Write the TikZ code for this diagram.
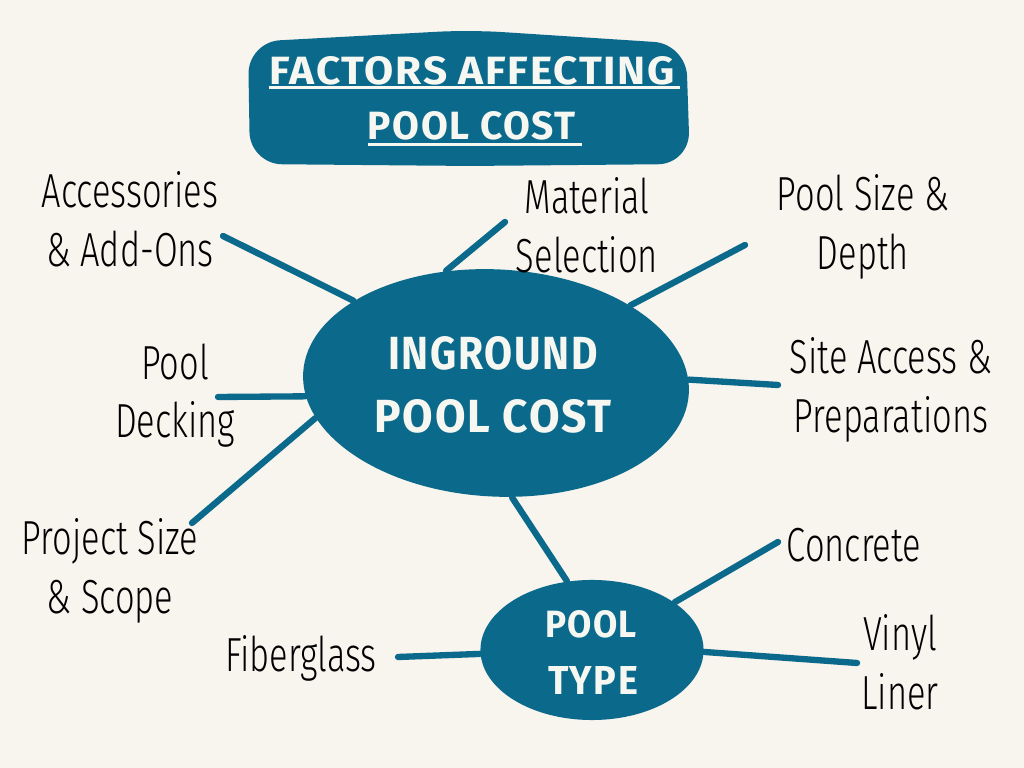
\documentclass[tikz,border=0pt]{standalone}
\usepackage{fontspec}
\usepackage{graphicx}
\usetikzlibrary{shapes.geometric,calc}
\newfontfamily\handfont{Fira Sans Light}[FakeStretch=0.72]
\newfontfamily\ttlfont{Fira Sans}[LetterSpace=4]
\definecolor{bgc}{HTML}{F8F4EE}
\definecolor{poolblue}{HTML}{0B6A8C}
\definecolor{ttlwhite}{HTML}{F7F7F2}
\newlength\pxu
\setlength\pxu{0.01cm}
\newcommand\fitbox[3]{\resizebox{#1\pxu}{#2\pxu}{\ttlfont\bfseries #3}}
\begin{document}
\begin{tikzpicture}[x=0.01cm,y=-0.01cm,
  lbl/.style={font=\handfont\fontsize{13.6}{16.6}\selectfont, align=center, inner sep=0pt, text=black},
  conn/.style={draw=poolblue, line width=1.8pt, line cap=round},
  blob/.style={ellipse, fill=poolblue, inner sep=0pt},
  ttl/.style={inner sep=0pt, text=ttlwhite},
  uline/.style={draw=ttlwhite, line width=0.85pt}]
% background
\fill[bgc] (0,0) rectangle (1024,768);
\useasboundingbox (0,0) rectangle (1024,768);

% title blob
\fill[poolblue, rounded corners=0.32cm] (248,42) -- (470,30) -- (686,44) -- (690,164) -- (470,166) -- (250,164) -- cycle;
\node[ttl, anchor=base west] (t1) at (269,85) {\fitbox{405}{28}{FACTORS AFFECTING}};
\node[ttl, anchor=base west] (t2) at (367,140) {\fitbox{208}{28}{POOL COST}};
\draw[uline] ($(t1.base west)+(0,3)$) -- ($(t1.base east)+(5,3)$);
\draw[uline] ($(t2.base west)+(1,5)$) -- ($(t2.base east)+(6,5)$);

% main ellipse and pool type ellipse (shapes)
\node[blob, minimum width=3.86cm, minimum height=2.27cm, rotate=-3] (main) at (496,383) {};
\node[blob, minimum width=2.23cm, minimum height=1.40cm] (ptype) at (592,650) {};

% outer ends of connectors
\coordinate (accO) at (223,236);
\coordinate (matO) at (505,222);
\coordinate (sizeO) at (745,245);
\coordinate (siteO) at (778,385);
\coordinate (deckO) at (218,397);
\coordinate (projO) at (192,523);
\coordinate (concO) at (778,542);
\coordinate (fibO) at (398,657);
\coordinate (vinO) at (857,663);

% connectors
\draw[conn] (accO) -- (main.153);
\draw[conn] (matO) -- (main.117);
\draw[conn] (sizeO) -- (main.33);
\draw[conn] (siteO) -- (main.4);
\draw[conn] (deckO) -- (main.187);
\draw[conn] (projO) -- (main.194);
\draw[conn] (main.281) -- (ptype.110);
\draw[conn] (concO) -- (ptype.30);
\draw[conn] (fibO) -- (ptype.182);
\draw[conn] (vinO) -- (ptype.359);

% texts in ellipses
\node[ttl, anchor=base] (mt1) at (493,370) {\fitbox{209}{33}{INGROUND}};
\node[ttl, anchor=base] (mt2) at (493,433) {\fitbox{237}{33}{POOL COST}};
\node[ttl, anchor=base] (pt1) at (591,638) {\fitbox{92}{27}{POOL}};
\node[ttl, anchor=base] (pt2) at (593,695) {\fitbox{90}{28}{TYPE}};

% labels
\node[lbl, anchor=north] (acc) at (130,171) {Accessories\\\& Add-Ons};
\node[lbl, anchor=north] (mat) at (587,177) {Material\\Selection};
\node[lbl, anchor=north] (size) at (863,174) {Pool Size \&\\Depth};
\node[lbl, anchor=north] (site) at (891,337) {Site Access \&\\Preparations};
\node[lbl, anchor=north] (deck) at (175,343) {Pool\\Decking};
\node[lbl, anchor=north] (proj) at (110,518) {Project Size\\\& Scope};
\node[lbl, anchor=base] (conc) at (854,562) {Concrete};
\node[lbl, anchor=base] (fib) at (301,672) {Fiberglass};
\node[lbl, anchor=north] (vin) at (900,614) {Vinyl\\Liner};
\end{tikzpicture}
\end{document}
